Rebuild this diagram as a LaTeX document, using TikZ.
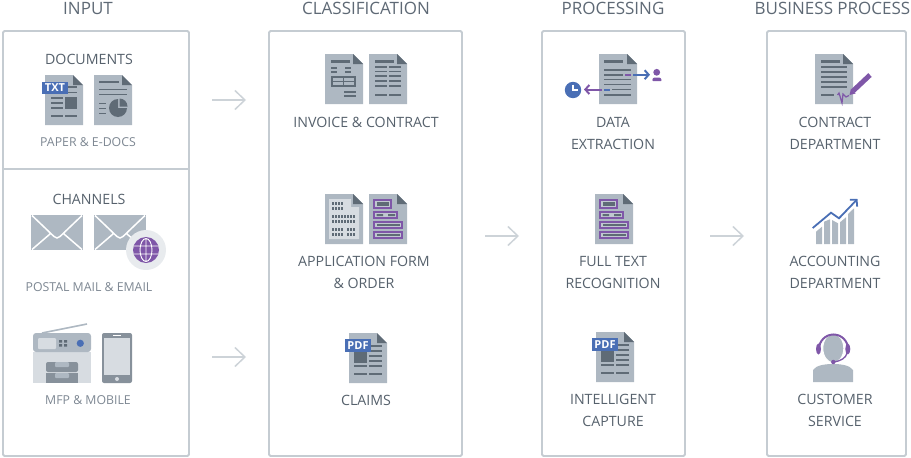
\documentclass[tikz,border=0pt]{standalone}
\usepackage{fontspec}
\setmainfont{Open Sans}
\usetikzlibrary{arrows.meta}
\definecolor{docgray}{HTML}{AEB8C2}
\definecolor{darkgray}{HTML}{5F6B76}
\definecolor{midgray}{HTML}{87919B}
\definecolor{lightgray}{HTML}{D7DCE1}
\definecolor{panelline}{HTML}{C5CCD2}
\definecolor{arrowgray}{HTML}{CDD3D8}
\definecolor{violet}{HTML}{7F57A8}
\definecolor{azure}{HTML}{4A6FB5}
\definecolor{headtext}{HTML}{5E6975}
\definecolor{maintext}{HTML}{56616C}
\definecolor{subtext}{HTML}{7D8792}
\definecolor{halo}{HTML}{E8EBEE}
\tikzset{
  panel/.style={draw=panelline,line width=1.8pt,rounded corners=1.5pt},
  flowarrow/.style={draw=arrowgray,line width=1.5pt,-{Straight Barb[length=10pt,width=19pt]}},
  headlabel/.style={inner sep=0pt,anchor=base,text=headtext,font=\fontsize{17}{20}\selectfont},
  mainlabel/.style={inner sep=0pt,anchor=base,text=maintext,font=\fontsize{14.2}{17}\selectfont},
  sublabel/.style={inner sep=0pt,anchor=base,text=subtext,font=\fontsize{12.3}{15}\selectfont},
  tagbox/.style={fill=azure,text=white,inner sep=0pt,minimum width=26pt,minimum height=13pt,font=\bfseries\fontsize{11}{12}\selectfont},
  rowline/.style={draw=darkgray,line width=1.7pt},
  docsheet/.pic={
    \fill[docgray] (0,0) -- (28,0) -- (38,10) -- (38,50) -- (0,50) -- cycle;
    \fill[darkgray] (28,0) -- (38,10) -- (28,10) -- cycle;
  },
  formdoc/.pic={
    \pic {docsheet};
    \draw[violet,line width=2pt,fill=lightgray!45!docgray] (5,6) rectangle (22,14);
    \fill[darkgray] (7.5,8) rectangle (19.5,12);
    \draw[violet,line width=2pt,fill=lightgray!45!docgray] (5,18) rectangle (28,24);
    \fill[darkgray] (7.5,20) rectangle (14,22) (19,20) rectangle (26,22);
    \draw[violet,line width=2pt,fill=lightgray!45!docgray] (5,28) rectangle (33,34);
    \fill[darkgray] (7.5,30) rectangle (31,32);
    \draw[violet,line width=2pt,fill=lightgray!45!docgray] (5,38) rectangle (33,44);
    \fill[darkgray] (7.5,40) rectangle (31,42);
  },
  pdfdoc/.pic={
    \pic {docsheet};
    \fill[darkgray] (5,15) rectangle (18,30);
    \draw[rowline] (20,13) -- (33,13) (20,18) -- (33,18) (20,23) -- (33,23) (20,28) -- (33,28)
      (5,33) -- (18,33) (20,33) -- (33,33) (5,41) -- (18,41) (20,41) -- (33,41);
  },
  envelope/.pic={
    \fill[docgray] (0,0) rectangle (52,35);
    \draw[white,line width=1.5pt] (1,0.5) -- (23,21.5) .. controls (25,23.5) and (27,23.5) .. (29,21.5) -- (51,0.5)
      (1,34.5) -- (19,19) (51,34.5) -- (33,19);
  }
}
\begin{document}
\begin{tikzpicture}[x=1pt,y=-1pt]
\useasboundingbox (0,0) rectangle (911,458);

% panels
\draw[panel] (3,31) rectangle (189,456);
\draw[draw=panelline,line width=1.8pt] (3,169) -- (189,169);
\draw[panel] (269,31) rectangle (462,456);
\draw[panel] (542,31) rectangle (685,456);
\draw[panel] (767,31) rectangle (906,456);

% headers
\node[headlabel] (hInput) at (88,14) {INPUT};
\node[headlabel] (hClass) at (366,14) {CLASSIFICATION};
\node[headlabel] (hProc) at (613,14) {PROCESSING};
\node[headlabel] (hBus) at (832.5,14) {BUSINESS PROCESS};

% flow arrows
\coordinate (a1s) at (212,100); \coordinate (a1e) at (246,100);
\coordinate (a2s) at (212,357); \coordinate (a2e) at (246,357);
\coordinate (a3s) at (485,236); \coordinate (a3e) at (519,236);
\coordinate (a4s) at (710,236); \coordinate (a4e) at (744,236);
\draw[flowarrow] (a1s) -- (a1e);
\draw[flowarrow] (a2s) -- (a2e);
\draw[flowarrow] (a3s) -- (a3e);
\draw[flowarrow] (a4s) -- (a4e);

% INPUT: documents
\node[mainlabel] (lDocs) at (89,64) {DOCUMENTS};
\begin{scope}[shift={(45,75)}]
  \pic {docsheet};
  \draw[rowline] (23,12) -- (32,12) (6,17.5) -- (32,17.5) (6,23) -- (18,23) (6,28) -- (18,28) (6,33) -- (18,33)
    (6,41) -- (18,41) (20,41) -- (32,41);
  \fill[darkgray] (20,22) rectangle (32,34);
\end{scope}
\node[tagbox,minimum height=12pt] (tagTxt) at (55,88) {TXT};
\begin{scope}[shift={(94,75)}]
  \pic {docsheet};
  \draw[rowline] (5,7) -- (25,7) (5,14.5) -- (33,14.5) (5,19.5) -- (33,19.5)
    (5,28.5) -- (12,28.5) (5,33.5) -- (12,33.5) (5,38.5) -- (12,38.5);
  \fill[darkgray] (24,33) -- ++(9,0) arc[start angle=0,end angle=-270,radius=9pt] -- cycle;
  \fill[darkgray] (25.5,31.5) -- ++(0,-8) arc[start angle=90,end angle=0,radius=8pt] -- cycle;
\end{scope}
\node[sublabel] (lPaper) at (88,146) {PAPER \& E-DOCS};

% INPUT: channels
\node[mainlabel] (lChan) at (89,204) {CHANNELS};
\pic at (31,215) {envelope};
\pic at (94,215) {envelope};
\fill[halo] (146,250) circle[radius=20pt];
\begin{scope}[shift={(146,250)}]
  \fill[violet] (0,0) circle[radius=13pt];
  \draw[white,line width=.9pt] (0,0) ellipse[x radius=6pt,y radius=11.5pt] (0,-11.5) -- (0,11.5)
    (-12,-4) -- (12,-4) (-12,4) -- (12,4);
\end{scope}
\node[sublabel] (lPostal) at (89,291) {POSTAL MAIL \& EMAIL};

% INPUT: MFP and mobile
\draw[docgray,line width=1.6pt] (42,333) -- (87,324);
\fill[lightgray] (33,352) rectangle (91,383);
\fill[docgray,rounded corners=3pt] (33,352) -- (33,333) -- (91,333) -- (91,352) -- cycle;
\fill[lightgray,rounded corners=1pt] (38,338) rectangle (56,349);
\fill[darkgray] (59,340) rectangle (62,342.5) (64,340) rectangle (67,342.5) (59,344) rectangle (62,346.5) (64,344) rectangle (67,346.5);
\fill[azure] (80.3,343.3) circle[radius=3.6pt];
\fill[midgray,rounded corners=2pt] (46,372) -- (46,362) -- (78,362) -- (78,372) -- cycle;
\fill[midgray] (46,373) rectangle (78,383);
\fill[docgray,rounded corners=1pt] (55,362) -- (55,367) -- (69,367) -- (69,362) -- cycle;
\fill[docgray,rounded corners=1pt] (55,373) -- (55,378) -- (69,378) -- (69,373) -- cycle;
\fill[midgray,rounded corners=2pt] (102,333) rectangle (132,383);
\fill[lightgray] (104,338) rectangle (130,375);
\draw[white,line width=.9pt] (113,335.7) -- (121,335.7);
\fill[lightgray] (117,379) circle[radius=2pt];
\node[sublabel] (lMfp) at (88,404) {MFP \& MOBILE};

% CLASSIFICATION: invoice and contract
\begin{scope}[shift={(325,54)}]
  \pic {docsheet};
  \draw[darkgray,line width=3pt] (6,7) -- (25,7);
  \draw[rowline] (6,14) -- (12,14) (20,14) -- (26,14) (6,18) -- (12,18) (20,18) -- (26,18)
    (19,38) -- (31,38) (19,42) -- (31,42);
  \draw[darkgray,line width=1.7pt] (6.7,22.7) rectangle (30.3,32.3) (6.7,27.5) -- (30.3,27.5) (18.5,22.7) -- (18.5,32.3);
\end{scope}
\begin{scope}[shift={(369,54)}]
  \pic {docsheet};
  \draw[darkgray,line width=3pt] (6,7) -- (25,7);
  \draw[rowline] (6,41) -- (18,41) (20,41) -- (32,41);
  \foreach \yy in {13,17.5,22,27,32}{\draw[rowline] (6,\yy) -- (18,\yy) (20,\yy) -- (32,\yy);}
\end{scope}
\node[mainlabel] (lInv) at (366,127) {INVOICE \& CONTRACT};

% CLASSIFICATION: application form and order
\begin{scope}[shift={(325,194)}]
  \pic {docsheet};
  \fill[lightgray] (4,5) -- (26,5) -- (26,13) -- (34,13) -- (34,45) -- (4,45) -- cycle;
  \foreach \yy in {9.7,14.7}{\foreach \xx in {7,10,13,16}{\fill[darkgray] (\xx,\yy-1.5) rectangle (\xx+2,\yy+1.5);}}
  \foreach \yy in {22.7,27.7}{\foreach \xx in {7,10,13,16,19,22,25,28}{\fill[darkgray] (\xx,\yy-1.5) rectangle (\xx+2,\yy+1.5);}}
  \foreach \yy in {35.3,40.3}{\foreach \xx in {7,10,13,16,22,25,28}{\fill[darkgray] (\xx,\yy-1.5) rectangle (\xx+2,\yy+1.5);}}
\end{scope}
\pic at (369,194) {formdoc};
\node[mainlabel] (lApp) at (364,266) {APPLICATION FORM};
\node[mainlabel] (lOrd) at (364,288) {\& ORDER};

% CLASSIFICATION: claims
\pic at (349,333) {pdfdoc};
\node[tagbox] (tagPdfA) at (358,345.5) {PDF};
\node[mainlabel] (lClaims) at (366,405) {CLAIMS};

% PROCESSING: data extraction
\begin{scope}[shift={(599,54)}]
  \pic {docsheet};
  \draw[rowline] (5,15.7) -- (32,15.7) (5,20.7) -- (24,20.7) (5,25.5) -- (32,25.5) (5,30.5) -- (32,30.5)
    (13,35.5) -- (32,35.5) (5,41) -- (32,41);
  \draw[darkgray,line width=3pt] (5,7) -- (24,7);
  \draw[violet,line width=2pt] (26,20.7) -- (32,20.7);
  \draw[azure,line width=2pt] (5,35.5) -- (11,35.5);
\end{scope}
\coordinate (personEnd) at (650,74.7);
\coordinate (rowEnd) at (633,74.7);
\coordinate (clockEnd) at (584,89.5);
\coordinate (rowStart) at (602,89.5);
\draw[azure,line width=2pt,-{Straight Barb[length=4pt,width=9pt]}] (rowEnd) -- (personEnd);
\draw[violet,line width=2pt,-{Straight Barb[length=4pt,width=9pt]}] (rowStart) -- (clockEnd);
\fill[azure] (573,90) circle[radius=8.2pt];
\draw[white,line width=1.3pt] (573,84.5) -- (573,90) -- (577.5,90);
\fill[violet] (656.7,72.3) circle[radius=3.4pt];
\fill[violet,rounded corners=1pt] (652,81) -- (653.3,77.5) -- (660.3,77.5) -- (662,81) -- cycle;
\node[mainlabel] (lData) at (613,127) {DATA};
\node[mainlabel] (lExt) at (613,149) {EXTRACTION};

% PROCESSING: full text
\pic at (595,194) {formdoc};
\node[mainlabel] (lFull) at (613,266) {FULL TEXT};
\node[mainlabel] (lRec) at (613,288) {RECOGNITION};

% PROCESSING: intelligent capture
\pic at (596,332) {pdfdoc};
\node[tagbox] (tagPdfB) at (605,344.5) {PDF};
\node[mainlabel] (lInt) at (613,404) {INTELLIGENT};
\node[mainlabel] (lCap) at (613,426) {CAPTURE};

% BUSINESS: contract department
\begin{scope}[shift={(815,54)}]
  \pic {docsheet};
  \draw[darkgray,line width=3pt] (6,7) -- (25,7);
  \draw[rowline] (6,13) -- (32,13) (6,18) -- (32,18) (6,23) -- (32,23) (6,28) -- (32,28) (6,33) -- (32,33) (6,41) -- (19,41);
\end{scope}
\draw[violet,line width=5pt] (853,91) -- (870,75);
\fill[violet] (849.5,95) -- (851,88.5) -- (855.5,93.5) -- cycle;
\draw[violet,line width=1.2pt] (837.5,95) -- (839,93) -- (842,103) -- (843,94) -- (846,97) -- (849,95.5);
\node[mainlabel] (lCon) at (835,127) {CONTRACT};
\node[mainlabel] (lDep1) at (835,149) {DEPARTMENT};

% BUSINESS: accounting department
\fill[docgray] (816,231.7) -- (822,226.7) -- (822,244) -- (816,244) -- cycle;
\fill[docgray] (824,221.7) -- (830,219.3) -- (830,244) -- (824,244) -- cycle;
\fill[docgray] (832,220) -- (838,223.3) -- (838,244) -- (832,244) -- cycle;
\fill[docgray] (840,222.3) -- (846,217.3) -- (846,244) -- (840,244) -- cycle;
\fill[docgray] (848,214) -- (854,208.3) -- (854,244) -- (848,244) -- cycle;
\coordinate (chartA) at (812.7,228);
\coordinate (chartB) at (831,212.7);
\coordinate (chartC) at (839,218.3);
\coordinate (chartD) at (857.5,199);
\draw[azure,line width=1.8pt,-{Straight Barb[length=4.5pt,width=10pt]}] (chartA) -- (chartB) -- (chartC) -- (chartD);
\node[mainlabel] (lAcc) at (835,266) {ACCOUNTING};
\node[mainlabel] (lDep2) at (835,288) {DEPARTMENT};

% BUSINESS: customer service
\fill[docgray] (813,382) -- (813,370) .. controls (816,365) and (826,364) .. (833,364) .. controls (840,364) and (850,365) .. (853,370) -- (853,382) -- cycle;
\draw[white,line width=1pt,fill=docgray] (833.3,348.3) ellipse[x radius=10.5pt,y radius=14.5pt];
\draw[violet,line width=2pt] (819,349) arc[start angle=180,end angle=0,radius=14.5pt];
\fill[violet] (818.5,349) ellipse[x radius=2.5pt,y radius=5.5pt];
\fill[violet] (847.8,349) ellipse[x radius=2.5pt,y radius=5.5pt];
\draw[violet,line width=1.3pt] (847,353) .. controls (846,358) and (841,361) .. (833.5,362);
\fill[violet] (833.3,362) circle[radius=2.2pt];
\node[mainlabel] (lCus) at (835,404) {CUSTOMER};
\node[mainlabel] (lSer) at (835,426) {SERVICE};
\end{tikzpicture}
\end{document}
